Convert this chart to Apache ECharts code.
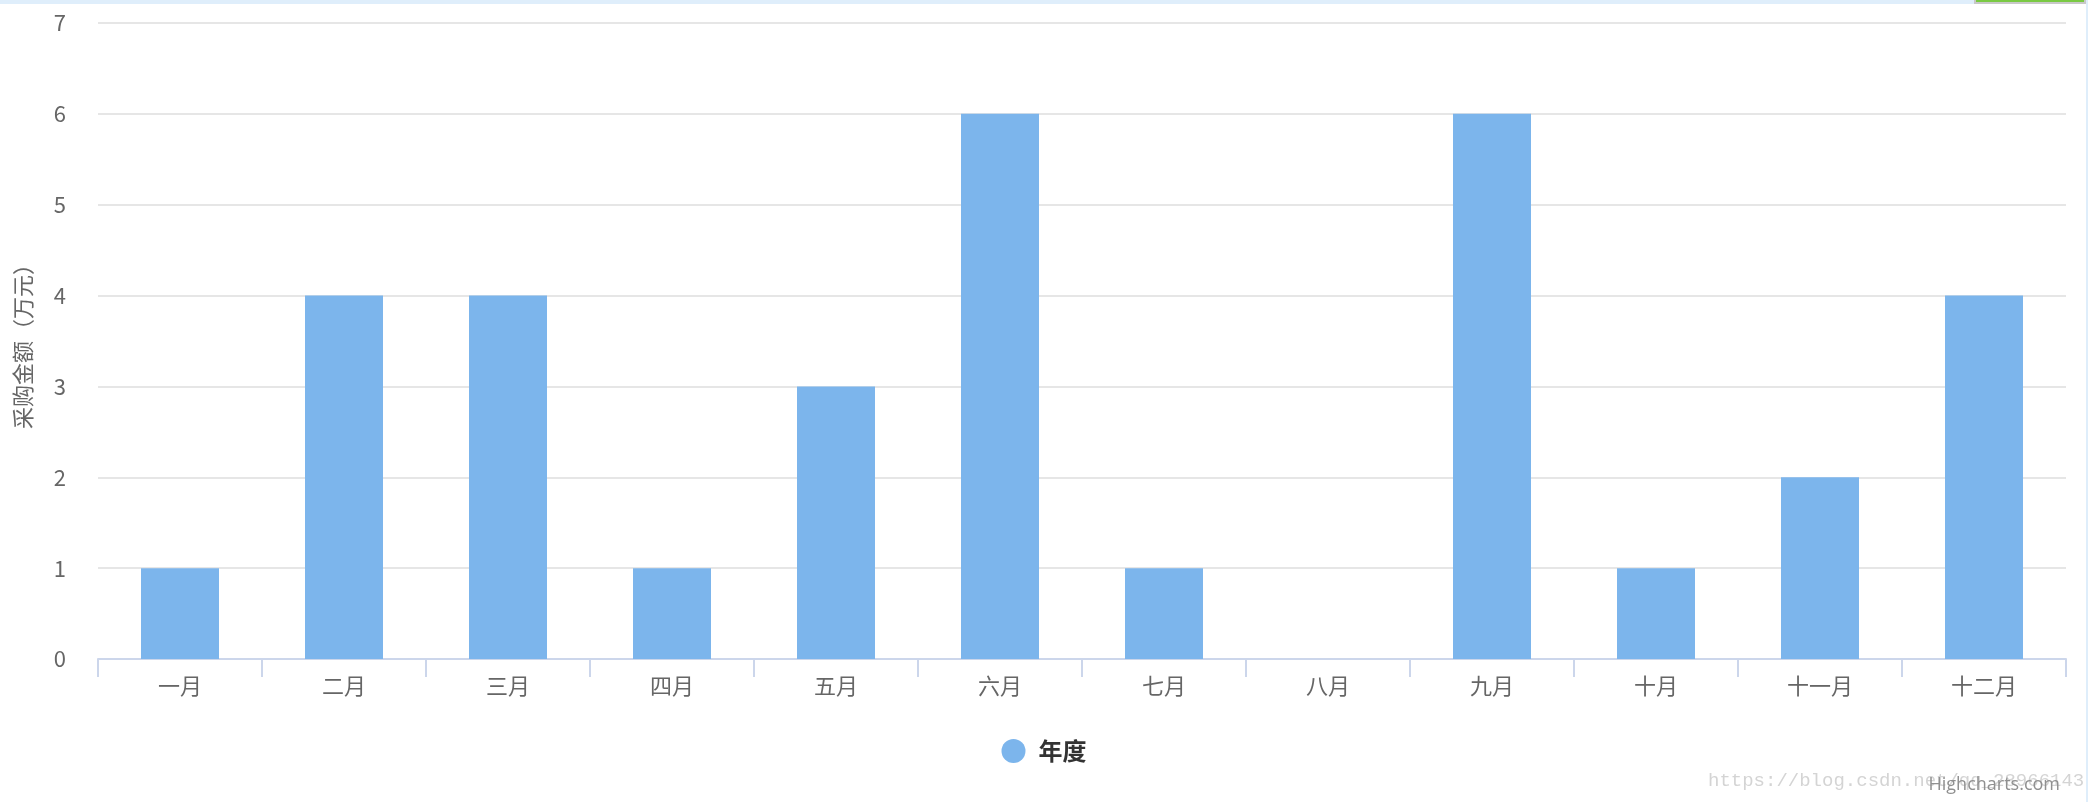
<!DOCTYPE html>
<html>
<head>
<meta charset="utf-8">
<script src="https://cdn.jsdelivr.net/npm/echarts@6/dist/echarts.min.js"></script>
<style>
  html, body { margin: 0; padding: 0; background: #fff; }
  #main { width: 2088px; height: 802px; }
</style>
</head>
<body>
<div id="main"></div>
<script>
// data
var months = ['一月', '二月', '三月', '四月', '五月', '六月', '七月', '八月', '九月', '十月', '十一月', '十二月']
var yearly = [1, 4, 4, 1, 3, 6, 1, 0, 6, 1, 2, 4]
var seriesName = '年度'
var yTicks = [0, 1, 2, 3, 4, 5, 6, 7]

var font = '"Noto Sans CJK SC", "Open Sans", sans-serif'
var chart = echarts.init(document.getElementById('main'))

var option = {
    animation: false,
    textStyle: { fontFamily: font },
    grid: { left: 98, right: 22, top: 23, bottom: 143 },
    legend: {
        bottom: 34,
        left: 'center',
        icon: 'circle',
        itemWidth: 24,
        itemHeight: 24,
        textStyle: { fontSize: 24, fontWeight: 'bold', color: '#333', fontFamily: font, padding: [0, 0, 0, 8] },
        data: [seriesName]
    },
    xAxis: {
        type: 'category',
        data: months,
        axisLine: { lineStyle: { color: '#ccd6eb', width: 2 } },
        axisTick: { show: true, length: 18, alignWithLabel: false, lineStyle: { color: '#ccd6eb', width: 2 } },
        axisLabel: { color: '#666', fontSize: 22, margin: 16, fontFamily: font }
    },
    yAxis: {
        type: 'value',
        min: yTicks[0],
        max: yTicks[yTicks.length - 1],
        interval: 1,
        name: '采购金额（万元）',
        nameLocation: 'middle',
        nameRotate: 90,
        nameGap: 64,
        nameTextStyle: { color: '#666', fontSize: 22, fontFamily: font },
        axisLine: { show: false },
        axisTick: { show: false },
        axisLabel: { color: '#666', fontSize: 22, margin: 32, fontFamily: font },
        splitLine: { lineStyle: { color: '#e6e6e6', width: 2 } }
    },
    series: [{
        name: seriesName,
        type: 'bar',
        data: yearly,
        barWidth: 78,
        itemStyle: { color: '#7cb5ec' }
    }],
    graphic: [
        { type: 'rect', left: 0, top: 0, shape: { width: 2088, height: 4 }, style: { fill: '#dfeefb' } },
        { type: 'rect', left: 1974, top: 0, shape: { width: 112, height: 4 }, style: { fill: '#c8c8c8' } },
        { type: 'rect', left: 1976, top: 0, shape: { width: 108, height: 2 }, style: { fill: '#7ac943' } },
        { type: 'rect', left: 2086, top: 0, shape: { width: 2, height: 802 }, style: { fill: '#dfeefb' } },
        { type: 'text', left: 1708, top: 771, style: { text: 'https://blog.csdn.net/qq_28966143', fill: '#d4d4d4', font: '19px "Liberation Mono", monospace' } },
        { type: 'text', right: 28, top: 776, style: { text: 'Highcharts.com', fill: '#909090', font: '18px "Open Sans", sans-serif' } }
    ]
}
chart.setOption(option)
</script>
</body>
</html>
